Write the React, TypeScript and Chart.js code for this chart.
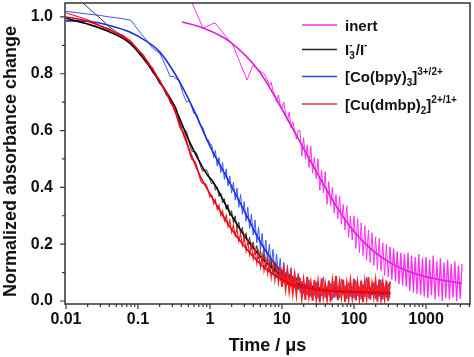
import { useEffect, useRef } from 'react';
import { Chart, registerables } from 'chart.js';
Chart.register(...registerables);

const FONT = "'Liberation Sans', Arial, Helvetica, sans-serif";

// axis ranges / ticks
const X_MIN = 0.0097;
const X_MAX = 4080;
const Y_MIN = -0.0106;
const Y_MAX = 1.049;
const X_MAJOR = [0.01, 0.1, 1, 10, 100, 1000];
const X_LABELS = ['0.01', '0.1', '1', '10', '100', '1000'];
const X_MINOR = [0.02, 0.03, 0.04, 0.05, 0.06, 0.07, 0.08, 0.09, 0.2, 0.3, 0.4, 0.5, 0.6, 0.7, 0.8, 0.9, 2, 3, 4, 5, 6, 7, 8, 9, 20, 30, 40, 50, 60, 70, 80, 90, 200, 300, 400, 500, 600, 700, 800, 900, 2000, 3000, 4000];
const Y_MAJOR = [0, 0.2, 0.4, 0.6, 0.8, 1.0];
const Y_LABELS = ['0.0', '0.2', '0.4', '0.6', '0.8', '1.0'];
const Y_MINOR = [0.1, 0.3, 0.5, 0.7, 0.9];

// time samples (microseconds)
const EARLY_T = [0.01, 0.02, 0.03, 0.04, 0.05, 0.06, 0.08, 0.1, 0.12, 0.14, 0.16, 0.18, 0.2, 0.22, 0.25, 0.28];
const LATE_T = [0.3162, 0.335, 0.3548, 0.3758, 0.3981, 0.4217, 0.4467, 0.4732, 0.5012, 0.5309, 0.5623, 0.5957, 0.631, 0.6683, 0.7079, 0.7499, 0.7943, 0.8414, 0.8913, 0.9441,
  1, 1.059, 1.122, 1.189, 1.259, 1.334, 1.413, 1.496, 1.585, 1.679, 1.778, 1.884, 1.995, 2.113, 2.239, 2.371, 2.512, 2.661, 2.818, 2.985, 3.162, 3.35, 3.548, 3.758, 3.981, 4.217, 4.467, 4.732, 5.012, 5.309, 5.623, 5.957, 6.31, 6.683, 7.079, 7.499, 7.943, 8.414, 8.913, 9.441,
  10, 10.59, 11.22, 11.89, 12.59, 13.34, 14.13, 14.96, 15.85, 16.79, 17.78, 18.84, 19.95, 21.13, 22.39, 23.71, 25.12, 26.61, 28.18, 29.85, 31.62, 33.5, 35.48, 37.58, 39.81, 42.17, 44.67, 47.32, 50.12, 53.09, 56.23, 59.57, 63.1, 66.83, 70.79, 74.99, 79.43, 84.14, 89.13, 94.41,
  100, 105.9, 112.2, 118.9, 125.9, 133.4, 141.3, 149.6, 158.5, 167.9, 177.8, 188.4, 199.5, 211.3, 223.9, 237.1, 251.2, 266.1, 281.8, 298.5, 316.2, 335, 354.8, 375.8, 398.1, 421.7, 446.7, 473.2, 501.2, 530.9, 562.3, 595.7, 631, 668.3, 707.9, 749.9, 794.3, 841.4, 891.3, 944.1,
  1000, 1059, 1122, 1189, 1259, 1334, 1413, 1496, 1585, 1679, 1778, 1884, 1995, 2113, 2239, 2371, 2512, 2661, 2818, 2985, 3162];

// measured traces
const RED_EARLY = [1.015, 0.99, 0.968, 0.958, 0.94, 0.938, 0.915, 0.882, 0.866, 0.832, 0.82, 0.79, 0.778, 0.752, 0.735, 0.698];
const RED_LATE = [0.685, 0.665, 0.639, 0.614, 0.602, 0.597, 0.588, 0.569, 0.54, 0.513, 0.498, 0.494, 0.488, 0.468, 0.441, 0.42, 0.414, 0.414, 0.408, 0.389, 0.366,
  0.372, 0.342, 0.356, 0.322, 0.338, 0.3, 0.318, 0.282, 0.302, 0.262, 0.285, 0.242, 0.268, 0.228, 0.255, 0.21, 0.238, 0.195, 0.225, 0.176, 0.212, 0.162, 0.198, 0.148, 0.185, 0.132, 0.175, 0.118, 0.165, 0.105, 0.152, 0.095, 0.142, 0.08, 0.135, 0.07, 0.125, 0.062, 0.118, 0.05, 0.11, 0.045, 0.1, 0.038, 0.095, 0.03, 0.088, 0.025, 0.085,
  0.078, 0.012, 0.07, 0.004, 0.085, 0.018, 0.062, 0, 0.074, 0.01, 0.066, -0.004, 0.08, 0.015, 0.058, 0.006, 0.072, -0.002, 0.068, 0.012, 0.088, 0.003, 0.064, 0.016, 0.075, -0.003, 0.06, 0.008, 0.07, 0.014, 0.078, 0.002, 0.062, 0.01, 0.072, -0.004, 0.066, 0.012, 0.084, 0.005, 0.06, 0.016, 0.07, -0.002, 0.076, 0.008, 0.064, 0.011, 0.072, 0, 0.068];
const BLACK_EARLY = [1.1, 1.034, 0.995, 0.965, 0.948, 0.935, 0.905, 0.88, 0.858, 0.84, 0.805, 0.79, 0.765, 0.755, 0.722, 0.71];
const BLACK_LATE = [0.694, 0.683, 0.66, 0.634, 0.615, 0.608, 0.603, 0.596, 0.571, 0.544, 0.527, 0.526, 0.525, 0.515, 0.491, 0.47, 0.456, 0.461, 0.462, 0.449, 0.426,
  0.412, 0.42, 0.39, 0.402, 0.368, 0.38, 0.345, 0.36, 0.322, 0.34, 0.3, 0.318, 0.275, 0.3, 0.255, 0.278, 0.235, 0.26, 0.215, 0.24, 0.198, 0.225, 0.18, 0.208, 0.162, 0.195, 0.148, 0.178, 0.132, 0.165, 0.118, 0.152, 0.105, 0.14, 0.092, 0.13, 0.082, 0.12, 0.072, 0.11, 0.065, 0.1, 0.058, 0.095, 0.05, 0.088, 0.045, 0.082, 0.04, 0.078, 0.035, 0.072, 0.03, 0.066, 0.028, 0.062, 0.025, 0.06, 0.022, 0.058, 0.02, 0.056, 0.018, 0.055];
const BLUE_EARLY = [1.02, 1.01, 1.005, 1.0, 0.997, 0.994, 0.988, 0.955, 0.93, 0.91, 0.89, 0.88, 0.873, 0.85, 0.82, 0.79];
const BLUE_LATE = [0.79, 0.782, 0.78, 0.776, 0.752, 0.73, 0.715, 0.7, 0.704, 0.7, 0.68, 0.66, 0.66, 0.652, 0.625, 0.615, 0.612, 0.59, 0.57, 0.568, 0.552,
  0.55, 0.505, 0.53, 0.475, 0.505, 0.452, 0.488, 0.428, 0.465, 0.405, 0.44, 0.38, 0.418, 0.355, 0.398, 0.33, 0.375, 0.305, 0.35, 0.28, 0.33, 0.255, 0.305, 0.232, 0.285, 0.205, 0.26, 0.18, 0.238, 0.16, 0.215, 0.14, 0.2, 0.12, 0.182, 0.1, 0.165, 0.085, 0.15, 0.072, 0.135, 0.06, 0.125, 0.05, 0.115, 0.04, 0.105, 0.035, 0.098,
  0.03, 0.07, 0.025, 0.06, 0.02, 0.075, 0.015, 0.055, 0.02, 0.068, 0.01, 0.05, 0.018, 0.085, 0.012, 0.052, 0.02, 0.062, 0.005, 0.07, 0.015, 0.05, 0.01, 0.078, 0.02, 0.055, 0.008, 0.065, 0.015, 0.048, 0.01, 0.072, 0.018, 0.05, 0.006, 0.06, 0.014, 0.082, 0.01, 0.05, 0.02, 0.066, 0.008, 0.055, 0.015, 0.075, 0.005, 0.05, 0.012, 0.062, 0.01];
const MAG_EARLY_T = [0.5, 0.8, 1.17, 2.08, 3.27, 3.95, 4.94];
const MAG_EARLY = [1.08, 0.961, 0.979, 0.901, 0.778, 0.83, 0.81];
const MAG_LATE_START = 50; // index into LATE_T (5.623 us)
const MAG_LATE = [0.8, 0.79, 0.775, 0.76, 0.77, 0.74, 0.725, 0.7, 0.725, 0.69, 0.68, 0.7, 0.66, 0.635, 0.665, 0.61, 0.63, 0.605, 0.57, 0.6,
  0.6, 0.51, 0.575, 0.5, 0.55, 0.47, 0.545, 0.45, 0.505, 0.43, 0.5, 0.39, 0.46, 0.38, 0.455, 0.34, 0.42, 0.335, 0.4, 0.31, 0.375, 0.29, 0.37, 0.27, 0.34, 0.25, 0.335, 0.225, 0.3, 0.215,
  0.3, 0.185, 0.29, 0.17, 0.275, 0.16, 0.265, 0.145, 0.25, 0.135, 0.24, 0.125, 0.225, 0.11, 0.22, 0.105, 0.205, 0.09, 0.2, 0.085, 0.19, 0.075, 0.185, 0.07, 0.175, 0.06, 0.17, 0.055, 0.165, 0.05,
  0.17, 0.035, 0.16, 0.03, 0.155, 0.025, 0.165, 0.02, 0.15, 0.015, 0.155, 0.01, 0.145, 0.02, 0.16, 0.005, 0.14, 0.015, 0.15, 0, 0.135, 0.01, 0.145, 0.005, 0.13, 0.012, 0.14, 0, 0.125, 0.008, 0.13];

// fitted curves
const RED_FIT_T = [0.01, 0.02, 0.04, 0.08, 0.133, 0.2, 0.3, 0.52, 0.73, 1.1, 1.9, 3.3, 5.5, 9.3, 15, 30, 100, 320];
const RED_FIT = [1.0, 0.985, 0.955, 0.91, 0.845, 0.775, 0.69, 0.53, 0.44, 0.36, 0.26, 0.18, 0.12, 0.08, 0.055, 0.04, 0.032, 0.03];
const BLACK_FIT_T = [0.01, 0.02, 0.04, 0.077, 0.133, 0.2, 0.3, 0.53, 0.91, 1.1, 1.9, 3.3, 5.5, 9.3, 15, 25, 50, 100, 320];
const BLACK_FIT = [0.995, 0.975, 0.948, 0.908, 0.838, 0.771, 0.7, 0.556, 0.445, 0.42, 0.31, 0.215, 0.145, 0.095, 0.065, 0.048, 0.035, 0.03, 0.025];
const BLUE_FIT_T = [0.01, 0.02, 0.04, 0.077, 0.13, 0.2, 0.3, 0.42, 0.66, 0.91, 1.07, 1.38, 1.89, 3.3, 5.5, 9.3, 14, 25, 50, 100, 320];
const BLUE_FIT = [0.986, 0.985, 0.97, 0.947, 0.915, 0.877, 0.815, 0.75, 0.648, 0.567, 0.53, 0.478, 0.415, 0.296, 0.19, 0.11, 0.07, 0.05, 0.04, 0.035, 0.03];
const MAG_FIT_T = [0.41, 0.8, 1.9, 4.9, 10, 17.8, 31.6, 56.2, 100, 178, 316, 562, 1000, 1778, 3162];
const MAG_FIT = [0.982, 0.961, 0.912, 0.806, 0.675, 0.56, 0.445, 0.335, 0.245, 0.18, 0.135, 0.105, 0.085, 0.072, 0.062];

// legend
type Seg = [string, string];
const LEGEND_LABELS: Seg[][] = [
  [['inert', '']],
  [['I', ''], ['3', 'sub'], ['-', 'supx'], ['/I', ''], ['-', 'sup']],
  [['[Co(bpy)', ''], ['3', 'sub'], [']', ''], ['3+/2+', 'sup']],
  [['[Cu(dmbp)', ''], ['2', 'sub'], [']', ''], ['2+/1+', 'sup']],
];
const LEGEND_COLORS = ['#ee30e6', '#262626', '#3344e0', '#e8304c'];

const pairs = (ts: number[], vs: number[]) => vs.map((v, i) => ({ x: ts[i], y: v }));

export default function App() {
  const ref = useRef<HTMLCanvasElement>(null);
  useEffect(() => {
    const red = pairs(EARLY_T, RED_EARLY).concat(pairs(LATE_T, RED_LATE));
    const black = pairs(EARLY_T, BLACK_EARLY).concat(pairs(LATE_T, BLACK_LATE));
    const blue = pairs(EARLY_T, BLUE_EARLY).concat(pairs(LATE_T, BLUE_LATE));
    const mag = pairs(MAG_EARLY_T, MAG_EARLY).concat(pairs(LATE_T.slice(MAG_LATE_START), MAG_LATE));

    const ds = (data: any[], color: string, w: number, smooth: boolean, wideFrom = 0, wideW = w) => ({
      data, borderColor: color, borderWidth: w, pointRadius: 0, fill: false, clip: 0,
      tension: 0, cubicInterpolationMode: smooth ? 'monotone' : 'default',
      segment: wideFrom > 0 ? { borderWidth: (c: any) => (c.p0.parsed.x >= wideFrom ? wideW : w) } : undefined,
    });

    const zeroPad = (s: any) => { s.paddingTop = 0; s.paddingBottom = 0; s.paddingLeft = 0; s.paddingRight = 0; };

    const deco = {
      id: 'deco',
      afterDraw(chart: any) {
        const ctx = chart.ctx as CanvasRenderingContext2D;
        const { left, right, top, bottom } = chart.chartArea;
        const xs = chart.scales.x, ys = chart.scales.y;
        ctx.save();
        ctx.strokeStyle = '#333';
        ctx.lineWidth = 1.5;
        ctx.strokeRect(left, top, right - left, bottom - top);
        ctx.lineWidth = 1.2;
        ctx.beginPath();
        X_MAJOR.forEach(v => { const p = xs.getPixelForValue(v); ctx.moveTo(p, bottom); ctx.lineTo(p, bottom + 5); });
        X_MINOR.forEach(v => { const p = xs.getPixelForValue(v); if (p <= right) { ctx.moveTo(p, bottom); ctx.lineTo(p, bottom + 3); } });
        Y_MAJOR.forEach(v => { const p = ys.getPixelForValue(v); ctx.moveTo(left, p); ctx.lineTo(left - 5, p); });
        Y_MINOR.forEach(v => { const p = ys.getPixelForValue(v); ctx.moveTo(left, p); ctx.lineTo(left - 3, p); });
        ctx.stroke();

        ctx.fillStyle = '#111';
        ctx.font = `bold 18px ${FONT}`;
        ctx.textAlign = 'center';
        ctx.textBaseline = 'alphabetic';
        ctx.fillText('Time / \u03bcs', (left + right) / 2, 351);
        ctx.save();
        ctx.translate(16, 161.5);
        ctx.rotate(-Math.PI / 2);
        ctx.fillText('Normalized absorbance change', 0, 0);
        ctx.restore();

        // legend
        const rowY = [25, 49.5, 76.5, 104];
        ctx.textAlign = 'left';
        LEGEND_LABELS.forEach((segs, i) => {
          const y = rowY[i];
          ctx.strokeStyle = LEGEND_COLORS[i];
          ctx.lineWidth = 1.5;
          ctx.beginPath();
          ctx.moveTo(302, y);
          ctx.lineTo(337, y);
          ctx.stroke();
          let x = 345;
          const base = y + 5.5;
          ctx.fillStyle = '#111';
          let lastSubW = 0;
          segs.forEach(([txt, kind]) => {
            if (kind === '') {
              ctx.font = `bold 15px ${FONT}`;
              ctx.fillText(txt, x, base);
              x += ctx.measureText(txt).width;
            } else if (kind === 'sub') {
              ctx.font = `bold 10px ${FONT}`;
              ctx.fillText(txt, x, base + 4);
              lastSubW = ctx.measureText(txt).width;
              x += lastSubW;
            } else if (kind === 'supx') {
              ctx.font = `bold 10px ${FONT}`;
              ctx.fillText(txt, x - lastSubW, base - 7);
              const w = ctx.measureText(txt).width;
              x += Math.max(0, w - lastSubW) + 1;
            } else {
              ctx.font = `bold 10px ${FONT}`;
              ctx.fillText(txt, x, base - 7);
              x += ctx.measureText(txt).width;
            }
          });
        });
        ctx.restore();
      },
    };

    const chart = new Chart(ref.current as HTMLCanvasElement, {
      type: 'line',
      data: {
        datasets: [
          ds(pairs(RED_FIT_T, RED_FIT), '#e0001c', 1.6, true),
          ds(red, '#ff1a1a', 1.1, false, 9, 1.9),
          ds(pairs(BLACK_FIT_T, BLACK_FIT), '#000000', 1.6, true),
          ds(pairs(BLUE_FIT_T, BLUE_FIT), '#1c30d8', 1.6, true),
          ds(pairs(MAG_FIT_T, MAG_FIT), '#e01cd8', 1.6, true),
          ds(black, '#3a3a3a', 1, false),
          ds(blue, '#3a55ff', 1, false),
          ds(mag, '#ff30f0', 1, false, 300, 1.3),
        ] as any,
      },
      options: {
        responsive: false,
        animation: false,
        devicePixelRatio: 1,
        layout: { padding: { top: 3, right: 4, left: 0, bottom: 0 } },
        plugins: { legend: { display: false }, tooltip: { enabled: false } },
        elements: { point: { radius: 0 } },
        scales: {
          x: {
            type: 'logarithmic', min: X_MIN, max: X_MAX,
            grid: { display: false, drawTicks: false },
            border: { display: false },
            ticks: {
              autoSkip: false, maxRotation: 0, padding: 6, color: '#111',
              font: { family: FONT, size: 16, weight: 'bold' },
              callback: (_v: any, i: number) => X_LABELS[i],
            },
            afterBuildTicks: (s: any) => { s.ticks = X_MAJOR.map(v => ({ value: v })); },
            afterFit: (s: any) => { s.height = 53; zeroPad(s); },
          },
          y: {
            type: 'linear', min: Y_MIN, max: Y_MAX,
            grid: { display: false, drawTicks: false },
            border: { display: false },
            ticks: {
              autoSkip: false, padding: 12, color: '#111',
              font: { family: FONT, size: 16, weight: 'bold' },
              callback: (_v: any, i: number) => Y_LABELS[i],
            },
            afterBuildTicks: (s: any) => { s.ticks = Y_MAJOR.map(v => ({ value: v })); },
            afterFit: (s: any) => { s.width = 65; zeroPad(s); },
          },
        } as any,
      },
      plugins: [deco],
    });
    return () => chart.destroy();
  }, []);
  return (
    <div style={{ position: 'absolute', left: 0, top: 0, width: 474, height: 357, background: '#fff' }}>
      <canvas ref={ref} width={474} height={357} style={{ display: 'block' }} />
    </div>
  );
}
